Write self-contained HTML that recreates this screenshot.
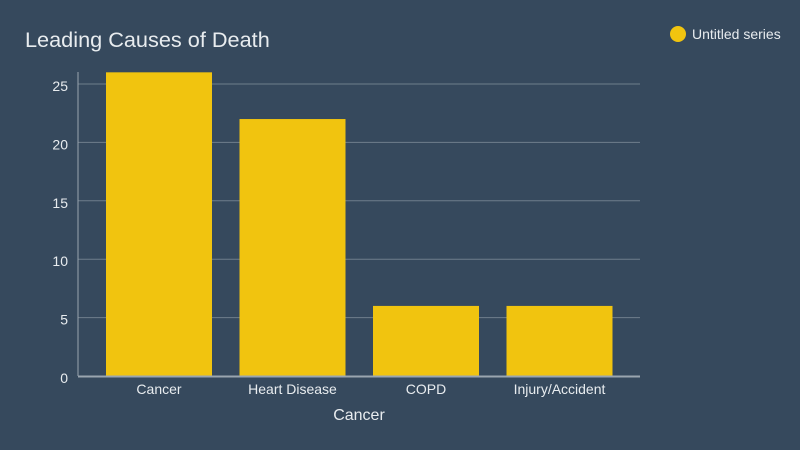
<!DOCTYPE html>
<html><head><meta charset="utf-8"><style>
html,body{margin:0;padding:0;background:#36495d;}
svg{display:block;font-family:"Liberation Sans",sans-serif;}
</style></head><body>
<svg width="800" height="450">
<rect width="800" height="450" fill="#36495d"/>
<text x="25" y="47" font-size="21.7" fill="#e8ecef">Leading Causes of Death</text>
<g>
<circle cx="678" cy="34" r="8" fill="#f1c40f"/>
<text x="692" y="39" font-size="14" fill="#e8ecef">Untitled series</text>
</g>
<g id="grid"></g>
<g id="bars"></g>
<g id="axes"></g>
<text x="359" y="420" font-size="16" fill="#e8ecef" text-anchor="middle">Cancer</text>
</svg>
<script>
const categories = ["Cancer","Heart Disease","COPD","Injury/Accident"];
const values = [26,22,6,6];
const yTicks = [0,5,10,15,20,25];
const NS="http://www.w3.org/2000/svg";
const y0=376, pxPerUnit=11.68, left=78, right=640;
function y(v){return y0 - v*pxPerUnit;}
function xc(i){return 159 + i*133.5;}
const bw=106;
function mk(tag,attrs,parent){const e=document.createElementNS(NS,tag);for(const k in attrs)e.setAttribute(k,attrs[k]);parent.appendChild(e);return e;}
const grid=document.getElementById('grid'),bars=document.getElementById('bars'),axes=document.getElementById('axes');
yTicks.forEach(t=>{
  if(t>0){const l=mk('line',{x1:left,x2:right,y1:y(t),y2:y(t),stroke:'#6f7e8c','stroke-width':1},grid);
  
  }
  const tx=mk('text',{x:68,y:y(t)+7,'font-size':14,fill:'#e8ecef','text-anchor':'end'},axes);
  tx.textContent=t;
  
  
});
values.forEach((v,i)=>{
  const r=mk('rect',{x:xc(i)-bw/2,y:y(v),width:bw,height:y(0)-y(v),fill:'#f1c40f'},bars);
  
  
  const t=mk('text',{x:xc(i),y:394,'font-size':14,fill:'#e8ecef','text-anchor':'middle'},axes);
  t.textContent=categories[i];
  
  
});
const xa=mk('line',{x1:left,x2:right,y1:y0+0.5,y2:y0+0.5,stroke:'#9aa5af','stroke-width':2},axes);


const ya=mk('line',{x1:left,x2:left,y1:72,y2:y0,stroke:'#9aa5af','stroke-width':1},axes);


</script>
</body></html>
